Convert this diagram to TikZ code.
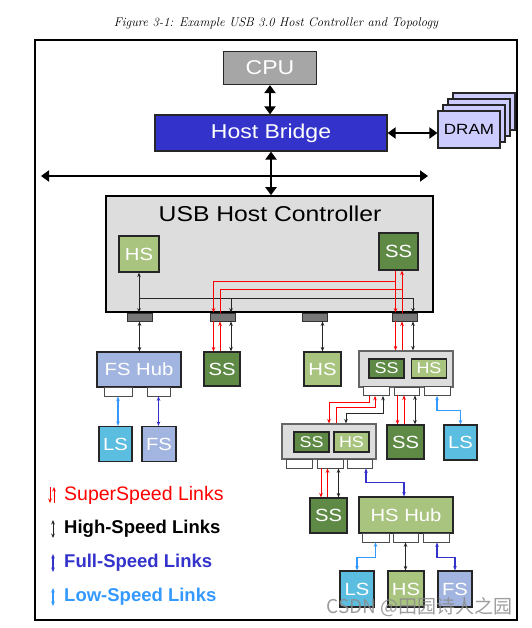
\documentclass[tikz,border=0pt]{standalone}
\usepackage{fontspec}
\usepackage{xcolor}
\usepackage{tikz}
\usetikzlibrary{arrows.meta,calc}
\newfontfamily\lab[FakeStretch=1.15]{Liberation Sans}
\newfontfamily\leg{Liberation Sans}
\newfontfamily\cjk{Noto Sans CJK SC}

\definecolor{hbblue}{HTML}{3333CC}
\definecolor{cpugray}{HTML}{A6A6A6}
\definecolor{dramlil}{HTML}{CCCCFF}
\definecolor{hcgray}{HTML}{DDDDDD}
\definecolor{hsgreen}{HTML}{A9C47F}
\definecolor{ssgreen}{HTML}{5E8A46}
\definecolor{fsblue}{HTML}{A2B4E0}
\definecolor{lscyan}{HTML}{5BBDE0}
\definecolor{lslink}{HTML}{3399FF}
\definecolor{portgray}{HTML}{777777}

\tikzset{
  box/.style={draw=black!85, line width=1.2pt, inner sep=0pt, text=white,
    minimum width=36pt, minimum height=35pt, font=\lab\fontsize{17.6}{18}\selectfont},
  hsbox/.style={box, fill=hsgreen},
  ssbox/.style={box, fill=ssgreen},
  lsbox/.style={box, fill=lscyan},
  fsbox/.style={box, fill=fsblue},
  smallbox/.style={minimum height=19pt, minimum width=35pt, font=\lab\fontsize{15.6}{16}\selectfont},
  hubbox/.style={draw=black!60, line width=1.2pt, fill=hcgray, inner sep=0pt,
    minimum width=94pt, minimum height=36pt},
  upport/.style={draw=black!80, line width=0.8pt, fill=portgray, inner sep=0pt,
    minimum width=25pt, minimum height=8pt},
  dnport/.style={draw=black!70, line width=0.8pt, fill=white, inner sep=0pt,
    minimum width=26pt, minimum height=9pt},
  ssl/.style={red, line width=0.9pt},
  hsl/.style={black!85, line width=0.9pt},
  fsl/.style={hbblue, line width=1.1pt},
  lsl/.style={lslink, line width=1.1pt},
  bigarrow/.style={line width=2.7pt, {Triangle[length=8pt,width=11pt]}-{Triangle[length=8pt,width=11pt]}},
  legtext/.style={inner sep=0pt, anchor=west, font=\leg\bfseries\fontsize{18.5}{19}\selectfont},
  >={Stealth[length=4.5pt,width=3.6pt]}
}

\begin{document}
\begin{tikzpicture}[x=1pt,y=-1pt]
\useasboundingbox (0,0) rectangle (531,628);

\node[font=\itshape\fontsize{12.6}{14}\selectfont] (title) at (276,23) {Figure 3-1: Example USB 3.0 Host Controller and Topology};
\draw[line width=1.2pt] (35,40) rectangle (517,620);

% CPU, host bridge and memory
\node[box, fill=cpugray, minimum width=93pt, minimum height=33pt, font=\lab\fontsize{20}{21}\selectfont] (cpu) at (270,68) {CPU};
\node[box, fill=hbblue, minimum width=232pt, minimum height=36pt, font=\lab\fontsize{20}{21}\selectfont] (hb) at (271,133) {Host Bridge};
\foreach \i in {3,2,1}
    \node[box, fill=dramlil, minimum width=62pt, minimum height=37pt] (dram\i) at (469+5*\i,129.5-6*\i) {};
\node[box, fill=dramlil, text=black, minimum width=62pt, minimum height=37pt, font=\lab\fontsize{14.8}{15}\selectfont] (dram) at (469,129.5) {DRAM};

\coordinate (busL) at (41,176);
\coordinate (busR) at (428,176);
\draw[bigarrow] (cpu.south) -- (cpu.south |- hb.north);
\draw[bigarrow] (hb.east) -- (hb.east -| dram.west);
\draw[bigarrow] (busL) -- (busR);

% USB host controller
\node[draw=black, line width=1.6pt, fill=hcgray, minimum width=327pt, minimum height=116pt] (usb) at (269.5,254) {};
\draw[bigarrow] (hb.south) -- (hb.south |- usb.north);
\node[font=\lab\fontsize{21.5}{22}\selectfont] (usbtitle) at (270,214) {USB Host Controller};
\node[hsbox, minimum width=40pt, minimum height=36pt] (uhs) at (139,254) {HS};
\node[ssbox, minimum width=39pt, minimum height=37pt] (uss) at (398.5,251.5) {SS};

% root ports
\node[upport] (p1) at (139.5,317) {};
\node[upport] (p2) at (222.5,317) {};
\node[upport] (p3) at (314.5,317) {};
\node[upport] (p4) at (404.5,317) {};

% links inside the controller
\draw[hsl,<->] (uhs.south) -- (uhs.south |- p1.north);
\draw[hsl,->] (uhs.south |- p1.north) ++(0,-14) -| ([xshift=8.5pt]p4.north);
\draw[hsl,->] ([xshift=8.5pt]p2.north) ++(0,-14) -- ([xshift=8.5pt]p2.north);
\draw[ssl,->] ([xshift=-9pt]p4.north |- uss.south) -- ([xshift=-9pt]p4.north);
\draw[ssl,->] ([xshift=-2.5pt]p4.north) -- ([xshift=-2.5pt]p4.north |- uss.south);
\draw[ssl,->] ([xshift=-9pt]p4.north) ++(0,-31) -| ([xshift=-9pt]p2.north);
\draw[ssl] ([xshift=-2.5pt]p4.north) ++(0,-23) -| ([xshift=-2.5pt]p2.north);

% FS hub
\node[box, fill=fsblue, minimum width=84pt, minimum height=35pt] (fshub) at (139,369.5) {FS Hub};
\node[dnport, minimum width=28pt] (fsp1) at (118,391.5) {};
\node[dnport, minimum width=23pt] (fsp2) at (158.5,391.5) {};
\node[lsbox, minimum width=33pt] (ls1) at (115.5,444) {LS};
\node[fsbox, minimum width=34pt] (fs1) at (159,444) {FS};
\draw[hsl,<->] (p1.south) -- (p1.south |- fshub.north);
\draw[lsl,<->] (fsp1.south) -- (fsp1.south |- ls1.north);
\draw[fsl,<->] (fsp2.south) -- (fsp2.south |- fs1.north);

% devices on the root ports
\node[ssbox, minimum height=34pt] (ss1) at (222,369) {SS};
\node[hsbox, minimum width=37pt, minimum height=34pt] (hs1) at (322.5,369) {HS};
\draw[hsl,<->] (hs1.north |- p3.south) -- (hs1.north);

% USB 3.0 hub A
\node[hubbox] (hubA) at (406,369) {};
\node[ssbox, smallbox] (hubAss) at (386.5,368.5) {SS};
\node[hsbox, smallbox] (hubAhs) at (429,368.5) {HS};
\node[dnport] (pa1) at (376,391) {};
\node[dnport, minimum width=25pt, minimum height=8pt] (pa2) at (406.5,391) {};
\node[dnport] (pa3) at (437,391) {};
\node[ssbox, minimum width=37pt, minimum height=34pt] (ss2) at (405.5,442) {SS};
\node[lsbox, minimum width=33pt] (ls2) at (460.5,442.5) {LS};

% USB 3.0 hub B
\node[hubbox, minimum height=35pt] (hubB) at (329,441.5) {};
\node[ssbox, smallbox, minimum height=20pt] (hubBss) at (311.5,442) {SS};
\node[hsbox, smallbox, minimum height=20pt] (hubBhs) at (351.5,442) {HS};
\node[dnport] (pb1) at (299,463.5) {};
\node[dnport] (pb2) at (330,463.5) {};
\node[dnport, minimum width=25pt] (pb3) at (359.5,463.5) {};
\node[ssbox, minimum width=37pt] (ss3) at (328.5,515.5) {SS};

% HS hub
\node[box, fill=hsgreen, minimum width=94pt, minimum height=36pt] (hshub) at (406,515) {HS Hub};
\node[dnport, minimum width=27pt] (pc1) at (375.5,537.5) {};
\node[dnport, minimum width=25pt] (pc2) at (405.5,537.5) {};
\node[dnport] (pc3) at (436,537.5) {};
\node[lsbox, minimum width=34pt, minimum height=36pt] (ls3) at (357,589) {LS};
\node[hsbox, minimum height=36pt] (hs2) at (406,589) {HS};
\node[fsbox, minimum width=34pt, minimum height=36pt] (fs2) at (455,589) {FS};

% SS + HS link bundles
\foreach \p/\t in {p2/ss1,p4/hubA,pa2/ss2,pb2/ss3}{
    \draw[ssl,->] ([xshift=-9pt]\p.south) -- ([xshift=-9pt]\p.south |- \t.north);
    \draw[ssl,<-] ([xshift=-2.5pt]\p.south) -- ([xshift=-2.5pt]\p.south |- \t.north);
    \draw[hsl,<->] ([xshift=8.5pt]\p.south) -- ([xshift=8.5pt]\p.south |- \t.north);
}

% hub A to hub B
\draw[ssl,->] ([xshift=-7pt]pa1.south) -- ++(0,7) -| (hubB.north);
\draw[ssl,<-] ([xshift=-1pt]pa1.south) -- ++(0,12) -| ([xshift=7pt]hubB.north);
\draw[hsl,<->] ([xshift=7pt]pa1.south) -- ++(0,18) -| ([xshift=17pt]hubB.north);
\draw[lsl,<->] (pa3.south) -- ++(0,15) -| (ls2.north);

% hub B to HS hub, HS hub ports
\draw[fsl,<->] ([xshift=6.5pt]pb3.south) -- ++(0,14) -| ([xshift=-2pt]hshub.north);
\draw[lsl,<->] (pc1.south) -- ++(0,15) -| (ls3.north);
\draw[hsl,<->] (pc2.south) -- (pc2.south |- hs2.north);
\draw[fsl,<->] ([xshift=1pt]pc3.south) -- ++(0,15) -| (fs2.north);

% Legend
\node[legtext, text=red, font=\leg\fontsize{19.5}{20}\selectfont] (lgss) at (64,495) {SuperSpeed Links};
\node[legtext] (lghs) at (64,529) {High-Speed Links};
\node[legtext, text=hbblue] (lgfs) at (64,563) {Full-Speed Links};
\node[legtext, text=lslink] (lgls) at (64,597) {Low-Speed Links};
\draw[ssl,->] ([xshift=-14pt,yshift=8pt]lgss.west) -- ++(0,16);
\draw[ssl,<-] ([xshift=-10pt,yshift=8pt]lgss.west) -- ++(0,16);
\draw[hsl,<->] ([xshift=-11pt,yshift=9pt]lghs.west) -- ++(0,18);
\draw[fsl,<->] ([xshift=-11pt,yshift=9pt]lgfs.west) -- ++(0,18);
\draw[lsl,<->] ([xshift=-11pt,yshift=9pt]lgls.west) -- ++(0,18);

\node[anchor=east, text=black!45, opacity=0.85, font=\cjk\fontsize{19}{20}\selectfont] (wm) at (516,607) {CSDN @田园诗人之园};
\end{tikzpicture}
\end{document}
